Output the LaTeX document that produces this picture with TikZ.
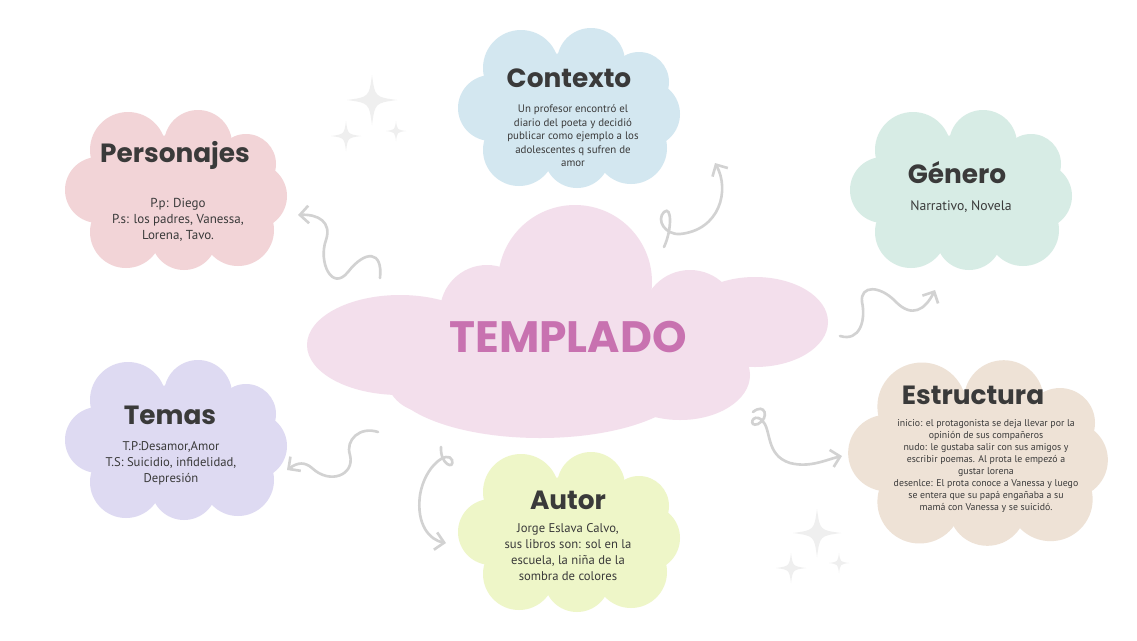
\documentclass[tikz,border=0pt]{standalone}
\usepackage{fontspec}
\setmainfont{PT Sans}
\newfontfamily\headfont{Poppins}
\usetikzlibrary{arrows.meta}

\definecolor{inkgray}{HTML}{3A3A3A}
\definecolor{centerpink}{HTML}{F3DFEC}
\definecolor{templadopink}{HTML}{C872B0}
\definecolor{skyblue}{HTML}{D3E7F0}
\definecolor{rosepink}{HTML}{F2D4D7}
\definecolor{mintgreen}{HTML}{D7ECE5}
\definecolor{lavender}{HTML}{DEDAF2}
\definecolor{limegreen}{HTML}{EEF6C8}
\definecolor{beige}{HTML}{EEE2D6}
\definecolor{arrowgray}{HTML}{D2D2D2}
\definecolor{sparkgray}{HTML}{EFEFEF}

\tikzset{
  title/.style={text=inkgray, font=\headfont\bfseries\fontsize{15}{16}\selectfont, inner sep=0pt},
  note/.style={text=inkgray, align=center, inner sep=0pt},
  flow/.style={draw=arrowgray, line width=1.5pt, line cap=round, -{Straight Barb[length=5pt,width=10pt]}}
}

% cloud made of circles, centred at #1,#2
\newcommand{\puff}[5]{%
  \begin{scope}[shift={(#1,#2)}, xscale=#3, yscale=#4]
    \fill[#5] (-48,-40) circle (38);
    \fill[#5] (22,-46) circle (34);
    \fill[#5] (70,-26) circle (30);
    \fill[#5] (-78,0) circle (33);
    \fill[#5] (78,6) circle (33);
    \fill[#5] (-50,42) circle (36);
    \fill[#5] (8,47) circle (33);
    \fill[#5] (62,40) circle (36);
    \fill[#5] (0,0) ellipse (85 and 55);
  \end{scope}}

% four point star
\newcommand{\twinkle}[3]{%
  \fill[sparkgray] (#1,#2-#3) .. controls (#1+0.12*#3,#2-0.12*#3) .. (#1+#3,#2)
    .. controls (#1+0.12*#3,#2+0.12*#3) .. (#1,#2+#3)
    .. controls (#1-0.12*#3,#2+0.12*#3) .. (#1-#3,#2)
    .. controls (#1-0.12*#3,#2-0.12*#3) .. cycle;}

\begin{document}
\begin{tikzpicture}[x=0.02cm, y=-0.02cm]
  \fill[white] (0,0) rectangle (1137,640);
  \useasboundingbox (0,0) rectangle (1137,640);

  % sparkles
  \twinkle{372}{100}{25}
  \twinkle{346}{136}{15}
  \twinkle{396}{131}{10}
  \twinkle{817}{533}{24}
  \twinkle{791}{568}{15}
  \twinkle{839}{563}{10}

  % central cloud
  \fill[centerpink] (400,345) ellipse (93 and 50);
  \fill[centerpink] (575,282) circle (77);
  \fill[centerpink] (487,312) circle (47);
  \fill[centerpink] (690,318) circle (48);
  \fill[centerpink] (755,322) ellipse (73 and 45);
  \fill[centerpink] (540,380) ellipse (150 and 58);
  \fill[centerpink] (425,372) circle (40);
  \fill[centerpink] (680,375) ellipse (70 and 45);
  \fill[centerpink] (450,310) rectangle (730,395);
  \node[text=templadopink, font=\headfont\bfseries\fontsize{25}{26}\selectfont] (templado) at (568,337) {TEMPLADO};

  % satellite clouds
  \puff{569}{108}{1}{1}{skyblue}
  \puff{176}{190}{1}{1}{rosepink}
  \puff{961}{190}{1}{1}{mintgreen}
  \puff{176}{440}{1}{1}{lavender}
  \puff{569}{532}{1}{1}{limegreen}
  \puff{978}{453}{1.17}{1.16}{beige}

  \node[title] (contexto) at (569,78) {Contexto};
  \node[note, font=\fontsize{6.2}{7.7}\selectfont] (contextoTxt) at (573,136) {Un profesor encontró el\\diario del poeta y decidió\\publicar como ejemplo a los\\adolescentes q sufren de\\amor};

  \node[title] (personajes) at (175,155) {Personajes};
  \node[note, font=\fontsize{7.4}{9}\selectfont] (personajesTxt) at (178,220) {P.p: Diego\\P.s: los padres, Vanessa,\\Lorena, Tavo.};

  \node[title] (genero) at (957,173) {Género};
  \node[note, font=\fontsize{7.8}{9}\selectfont] (generoTxt) at (961,207) {Narrativo, Novela};

  \node[title] (temas) at (170,415) {Temas};
  \node[note, font=\fontsize{7.2}{9}\selectfont] (temasTxt) at (171,463) {T.P:Desamor,Amor\\T.S: Suicidio, infidelidad,\\Depresión};

  \node[title] (autor) at (568,500) {Autor};
  \node[note, font=\fontsize{7.2}{9}\selectfont] (autorTxt) at (568,552) {Jorge Eslava Calvo,\\sus libros son: sol en la\\escuela, la niña de la\\sombra de colores};

  \node[title] (estructura) at (973,395) {Estructura};
  \node[note, font=\fontsize{5.6}{6.8}\selectfont] (estructuraTxt) at (986,466) {inicio: el protagonista se deja llevar por la\\opinión de sus compañeros\\nudo: le gustaba salir con sus amigos y\\escribir poemas. Al prota le empezó a\\gustar lorena\\desenlce: El prota conoce a Vanessa y luego\\se entera que su papá engañaba a su\\mamá con Vanessa y se suicidó.};

  % arrow ends
  \coordinate (pA) at (380,278);
  \coordinate (pB) at (298,215);
  \coordinate (cA) at (664,247);
  \coordinate (cB) at (715,163);
  \coordinate (gA) at (840,336);
  \coordinate (gB) at (935,290);
  \coordinate (eA) at (753,412);
  \coordinate (eB) at (842,456);
  \coordinate (tA) at (378,432);
  \coordinate (tB) at (287,470);
  \coordinate (aA) at (441,447);
  \coordinate (aB) at (446,543);

  \draw[flow] (pA) .. controls (383,250) and (365,250) .. (348,272) .. controls (332,292) and (318,262) .. (326,240) .. controls (332,222) and (318,214) .. (pB);
  \draw[flow] (cA) .. controls (672,230) and (672,205) .. (664,212) .. controls (656,220) and (665,235) .. (680,234) .. controls (720,230) and (730,190) .. (cB);
  \draw[flow] (gA) .. controls (860,342) and (866,320) .. (862,302) .. controls (860,285) and (880,285) .. (896,302) .. controls (912,318) and (925,310) .. (gB);
  \draw[flow] (eA) .. controls (765,402) and (770,418) .. (758,424) .. controls (748,428) and (752,412) .. (762,420) .. controls (772,430) and (765,455) .. (790,463) .. controls (810,468) and (825,460) .. (eB);
  \draw[flow] (tA) .. controls (360,426) and (345,440) .. (350,455) .. controls (355,475) and (330,485) .. (312,468) .. controls (305,462) and (298,462) .. (tB);
  \draw[flow] (aA) .. controls (440,465) and (455,470) .. (452,460) .. controls (448,450) and (425,465) .. (420,495) .. controls (416,525) and (430,540) .. (aB);
\end{tikzpicture}
\end{document}
